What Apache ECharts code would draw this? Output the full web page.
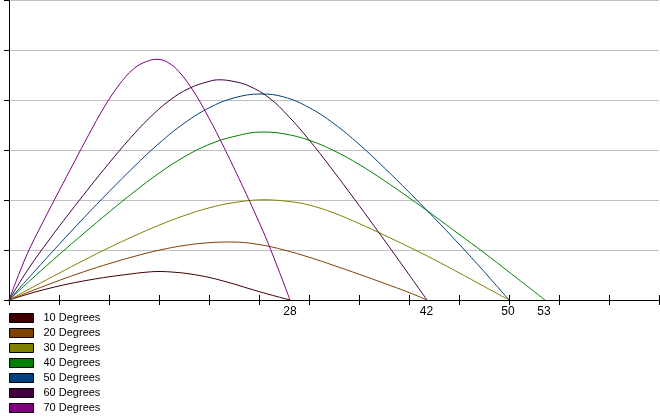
<!DOCTYPE html>
<html>
<head>
<meta charset="utf-8">
<script src="https://cdn.jsdelivr.net/npm/echarts@6/dist/echarts.min.js"></script>
<style>
html,body{margin:0;padding:0;background:#fff;}
#chart{width:660px;height:417px;}
</style>
</head>
<body>
<div id="chart"></div>
<script>
// Series names and colours
var seriesNames = ['10 Degrees','20 Degrees','30 Degrees','40 Degrees','50 Degrees','60 Degrees','70 Degrees'];
var seriesColors = ['#400000','#804000','#808000','#008000','#004080','#400040','#800080'];

// Trajectory points [distance, height]
var deg10 = [[0,0],[2,0.62],[4,1.16],[6,1.62],[8,2.0],[10,2.32],[12,2.58],[13.5,2.76],[15,2.85],[16.5,2.78],[18,2.62],[20,2.26],[22,1.74],[24,1.14],[26,0.56],[28.1,0]];
var deg20 = [[0,0],[2.5,1.0],[5,1.95],[7.5,2.83],[10,3.63],[12.5,4.35],[15,4.98],[17.5,5.45],[20,5.73],[22.3,5.8],[25,5.55],[27.5,5.0],[30,4.28],[32.5,3.45],[35,2.58],[37.5,1.68],[40,0.75],[41.8,0]];
var deg30 = [[0,0],[2.5,1.35],[5,2.68],[7.5,3.98],[10,5.23],[12.5,6.4],[15,7.48],[17.5,8.43],[20,9.21],[22.5,9.74],[25.5,10.02],[28,9.85],[30,9.5],[32.5,8.7],[35,7.65],[37.5,6.5],[40,5.3],[42.5,4.05],[45,2.72],[47.5,1.36],[50,0]];
var deg40 = [[0,0],[2.5,2.3],[5,4.53],[7.5,6.68],[10,8.78],[12.5,10.8],[15,12.68],[17.5,14.3],[20,15.55],[22.5,16.35],[25.3,16.8],[27.5,16.62],[30,15.98],[32.5,14.93],[35,13.56],[37.5,11.96],[40,10.23],[42.5,8.43],[45,6.58],[47.5,4.73],[50,2.8],[53.6,0]];
var deg50 = [[0,0],[2.5,2.8],[5,5.55],[7.5,8.23],[10,10.83],[12.5,13.33],[15,15.66],[17.5,17.66],[20,19.21],[22.5,20.21],[25.2,20.6],[27.5,20.3],[30,19.25],[32.5,17.63],[35,15.58],[37.5,13.25],[40,10.78],[42.5,8.23],[45,5.6],[47.5,2.85],[50,0]];
var deg60 = [[0,0],[2,3.2],[4,6.0],[6,8.64],[8,11.2],[10,13.68],[12,16.04],[14,18.16],[16,19.92],[18,21.16],[20,21.86],[21,22.02],[22.5,21.85],[24,21.4],[26,20.22],[28,18.32],[30,16.02],[32,13.48],[34,10.82],[36,8.1],[38,5.34],[40,2.54],[41.8,0]];
var deg70 = [[0,0],[1,2.62],[2,5.0],[3.5,8.0],[5,10.9],[6.5,13.75],[8,16.58],[9.5,19.25],[11,21.5],[12.5,23.15],[13.75,23.85],[14.8,24.07],[15.9,23.75],[17,22.83],[18.5,20.8],[20,18.18],[21.5,15.26],[23,12.14],[24.5,8.91],[26,5.46],[28.1,0]];

// Landing-point tick positions and their labels
var landingValues = [28.1, 41.75, 49.9, 53.5];
var landingLabels = ['28', '42', '50', '53'];

var allData = [deg10, deg20, deg30, deg40, deg50, deg60, deg70];

var chart = echarts.init(document.getElementById('chart'), null, {renderer:'canvas'});

var series = allData.map(function(d, i){
  return {
    name: seriesNames[i],
    type: 'line',
    xAxisIndex: 0,
    data: d,
    smooth: 0.4,
    showSymbol: false,
    symbol: 'none',
    animation: false,
    color: seriesColors[i],
    lineStyle: {width: 1, color: seriesColors[i]},
    itemStyle: {color: seriesColors[i]}
  };
});

var option = {
  animation: false,
  backgroundColor: '#fff',
  grid: {left: 9, right: 1, top: 0, bottom: 117, containLabel: false},
  legend: {
    orient: 'vertical',
    left: 9,
    top: 312,
    padding: 0,
    icon: 'rect',
    itemWidth: 24,
    itemHeight: 9,
    itemGap: 3,
    selectedMode: false,
    itemStyle: {borderColor: '#000', borderWidth: 1},
    textStyle: {fontFamily: 'Liberation Sans', fontSize: 11, color: '#000', lineHeight: 12, padding: [0,0,0,5]},
    data: seriesNames
  },
  xAxis: [{
    type: 'value',
    min: 0, max: 65, interval: 5,
    axisLine: {show: true, lineStyle: {color: '#000', width: 1}},
    axisTick: {show: true, length: 5, lineStyle: {color: '#000'}},
    splitLine: {show: false},
    axisLabel: {
      show: true,
      customValues: landingValues,
      margin: 6,
      fontFamily: 'Liberation Sans',
      fontSize: 12,
      color: '#000',
      formatter: function(v){
        var idx = landingValues.indexOf(v);
        return idx >= 0 ? landingLabels[idx] : '';
      }
    }
  },{
    type: 'value',
    position: 'bottom',
    min: 0, max: 65, interval: 5,
    axisLine: {show: false},
    axisTick: {show: true, inside: true, length: 5, lineStyle: {color: '#000'}},
    axisLabel: {show: false},
    splitLine: {show: false}
  }],
  yAxis: {
    type: 'value',
    min: 0, max: 30, interval: 5,
    axisLine: {show: true, lineStyle: {color: '#000', width: 1}},
    axisTick: {show: true, length: 5, lineStyle: {color: '#000'}},
    axisLabel: {show: false},
    splitLine: {show: true, lineStyle: {color: '#c0c0c0', width: 1}}
  },
  series: series
};
chart.setOption(option);
</script>
</body>
</html>
